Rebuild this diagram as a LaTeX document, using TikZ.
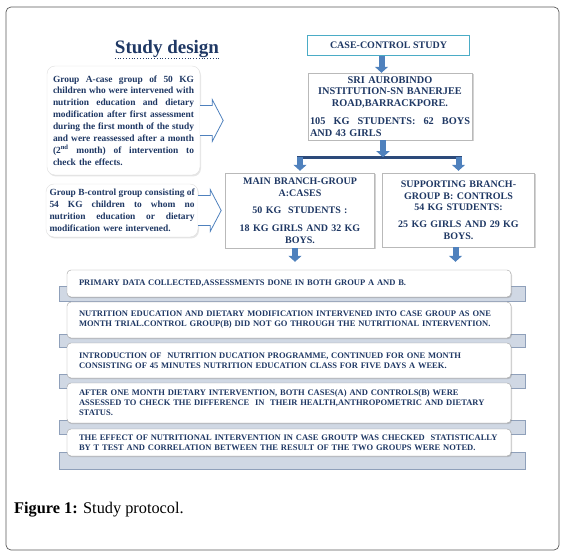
\documentclass[tikz,border=0pt]{standalone}
\usepackage{fontspec}
\setmainfont{Liberation Serif}
\usetikzlibrary{arrows.meta,shadows}
\setlength{\parindent}{0pt}
\newcommand{\spread}[2][141pt]{\leavevmode\hbox to #1{\spaceskip=0.25em plus 1fil\relax #2}}
\definecolor{textblue}{RGB}{31,56,100}
\definecolor{arrowblue}{RGB}{79,129,189}
\definecolor{arrowedge}{RGB}{44,74,122}
\definecolor{barfill}{RGB}{208,216,228}
\definecolor{baredge}{RGB}{143,160,186}
\definecolor{casecyan}{RGB}{75,172,198}
\begin{document}
\begin{tikzpicture}
[x=1pt, y=-1pt,
 branchbox/.style={draw=gray!55, fill=white, text=textblue, align=center,
   font=\fontsize{10}{11.7}\selectfont\bfseries,
   drop shadow={opacity=0.35, shadow xshift=1.5pt, shadow yshift=-1.5pt}},
 groupbox/.style={draw=gray!25, fill=white, rounded corners=8pt, text=textblue,
   align=left, font=\fontsize{9.4}{11.9}\selectfont\bfseries,
   drop shadow={opacity=0.2, shadow xshift=1pt, shadow yshift=-1.5pt}},
 stepbox/.style={draw=gray!75, fill=white, rounded corners=4pt, text=textblue,
   align=left, text width=420pt, inner xsep=12pt,
   font=\fontsize{8.5}{10}\selectfont\bfseries,
   drop shadow={opacity=0.35, shadow xshift=1pt, shadow yshift=-1.2pt}},
 bardecorate/.style={draw=baredge, fill=barfill, line width=0.6pt},
 blockarrow/.style={draw=arrowblue, line width=6pt, -{Triangle[width=13pt,length=6pt]}},
 linkline/.style={draw=arrowedge, line width=3pt},
 outlinearrow/.style={draw=arrowblue, fill=white, line width=0.8pt}]
\useasboundingbox (0,0) rectangle (568,556);
%% frame and title
\draw[rounded corners=5pt, black!65, line width=0.7pt] (6,7) rectangle (559,550);
\node (title) at (167,54) [anchor=base, inner sep=0pt, text=textblue,
  font=\fontsize{19}{22}\selectfont\bfseries] {Study design};
\draw[textblue, dotted, line width=0.8pt] ([yshift=-4pt]title.base west)
  -- ([yshift=-4pt]title.base east);
%% groups on the left
\node (groupa) at (123.5,120.5) [groupbox, text width=141pt, inner xsep=6pt,
  minimum height=109pt]
{\spread{Group A-case group of 50 KG}\\
 \spread{children who were intervened with}\\
 \spread{nutrition education and dietary}\\
 \spread{modification after first assessment}\\
 \spread{during the first month of the study}\\
 \spread{and were reassessed after a month}\\
 \spread{(2\textsuperscript{nd} month) of intervention to}\\
 check the effects.};
\node (groupb) at (122,210.5) [groupbox, text width=145pt, inner xsep=3.5pt,
  minimum height=53pt]
{\spread[145pt]{Group B-control group consisting of}\\
 \spread[145pt]{54 KG children to whom no}\\
 \spread[145pt]{nutrition education or dietary}\\
 modification were intervened.};
\foreach \grp in {groupa, groupb}
{
  \draw[outlinearrow] ([yshift=15pt]\grp.east) -- ++(12,0) -- ++(0,-6)
    -- ++(11,21) -- ++(-11,21) -- ++(0,-6) -- ++(-12,0);
}
%% study tree
\node (cc) at (388.5,45.5) [draw=casecyan, line width=1.3pt, fill=white,
  text=textblue, minimum width=162pt, minimum height=20pt,
  font=\fontsize{10}{12}\selectfont\bfseries] {CASE-CONTROL STUDY};
\node (sri) at (390,106.5) [branchbox, text width=160pt, inner xsep=2pt,
  minimum height=67pt, font=\fontsize{10.3}{11.6}\selectfont\bfseries]
{SRI AUROBINDO\\ INSTITUTION-SN BANERJEE\\ ROAD,BARRACKPORE.\\[7pt]
 \spread[160pt]{105 KG STUDENTS: 62 BOYS}\\ \leavevmode\hbox to 160pt{AND 43 GIRLS\hfil}};
\node (main) at (300,210.5) [branchbox, text width=142pt, minimum height=75pt]
{MAIN BRANCH-GROUP\\ A:CASES\\[6pt] 50 KG\ \ STUDENTS :\\[6pt]
 18 KG GIRLS AND 32 KG\\ BOYS.};
\node (supp) at (458.5,210) [branchbox, text width=145pt, minimum height=74pt]
{SUPPORTING BRANCH-\\ GROUP B: CONTROLS\\ 54 KG STUDENTS:\\[5pt]
 25 KG GIRLS AND 29 KG\\ BOYS.};
\coordinate (split) at ([xshift=-7pt, yshift=-17pt]sri.south);
\draw[blockarrow] ([xshift=-7pt]cc.south) -- ([xshift=-7pt]cc.south |- sri.north);
\draw[linkline, shorten <=-3pt, shorten >=-3pt] (main.north |- split)
  -- (supp.north |- split);
\draw[blockarrow] ([xshift=-7pt]sri.south) -- (split);
\draw[blockarrow, shorten >=2pt] (main.north |- split) -- (main.north);
\draw[blockarrow, shorten >=2pt] (supp.north |- split) -- (supp.north);
%% protocol steps
\foreach \bartop/\barbottom in {286/301, 334/347, 374/388, 420/434, 452/469}
  \draw[bardecorate] (59,\bartop) rectangle (525,\barbottom);
\foreach \stepname/\ypos/\hgt/\steptext in {
  step1/283.5/27/{PRIMARY DATA COLLECTED,ASSESSMENTS DONE IN BOTH GROUP A AND B.},
  step2/320/36/{NUTRITION EDUCATION AND DIETARY MODIFICATION INTERVENED INTO CASE GROUP AS ONE\\
    MONTH TRIAL.CONTROL GROUP(B) DID NOT GO THROUGH THE NUTRITIONAL INTERVENTION.},
  step3/360.5/35/{INTRODUCTION OF\ \ NUTRITION DUCATION PROGRAMME, CONTINUED FOR ONE MONTH\\
    CONSISTING OF 45 MINUTES NUTRITION EDUCATION CLASS FOR FIVE DAYS A WEEK.},
  step4/403/40/{AFTER ONE MONTH DIETARY INTERVENTION, BOTH CASES(A) AND CONTROLS(B) WERE\\
    ASSESSED TO CHECK THE DIFFERENCE\ \ IN\ \ THEIR HEALTH,ANTHROPOMETRIC AND DIETARY\\ STATUS.},
  step5/442.5/27/{THE EFFECT OF NUTRITIONAL INTERVENTION IN CASE GROUTP WAS CHECKED\ \ STATISTICALLY\\
    BY T TEST AND CORRELATION BETWEEN THE RESULT OF THE TWO GROUPS WERE NOTED.}}
{
  \node (\stepname) at (289,\ypos) [stepbox, minimum height=\hgt] {\steptext};
}
\draw[blockarrow, shorten >=8pt] ([xshift=-5pt]main.south)
  -- ([xshift=-5pt]main.south |- step1.north);
\draw[blockarrow, shorten >=8pt] ([xshift=-3pt]supp.south)
  -- ([xshift=-3pt]supp.south |- step1.north);
%% caption
\node (caption) at (14,513) [anchor=base west, inner sep=0pt,
  font=\fontsize{16.3}{19}\selectfont] {\textbf{Figure 1:} Study protocol.};
\end{tikzpicture}
\end{document}
